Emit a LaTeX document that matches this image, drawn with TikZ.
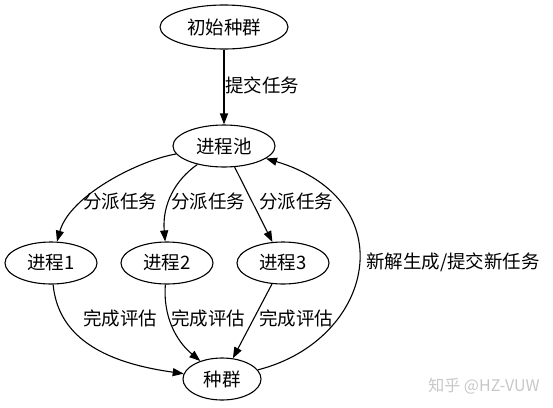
\documentclass[tikz,border=0pt]{standalone}
\usepackage{fontspec}
\setmainfont{Noto Sans CJK SC}
\usetikzlibrary{shapes.geometric,arrows.meta}
\begin{document}
\begin{tikzpicture}[x=1pt,y=-1pt,
  every node/.style={font=\fontsize{18.5}{22}\selectfont},
  st/.style={draw, ellipse, line width=1.1pt, inner sep=0pt},
  lbl/.style={inner sep=0pt},
  edge/.style={line width=1.1pt, -{Triangle[length=11pt,width=8pt]}},
  wm/.style={inner sep=0pt, text=black!22, font=\fontsize{16}{19}\selectfont}]
\useasboundingbox (0,0) rectangle (553,407);
\node[st, minimum width=128pt, minimum height=44pt] (init) at (224,27) {初始种群};
\node[st, minimum width=102pt, minimum height=42pt] (pool) at (224,146) {进程池};
\node[st, minimum width=92pt, minimum height=42pt] (p1) at (51,263) {进程1};
\node[st, minimum width=92pt, minimum height=42pt] (p2) at (167,263) {进程2};
\node[st, minimum width=92pt, minimum height=42pt] (p3) at (283,263) {进程3};
\node[st, minimum width=78pt, minimum height=42pt] (pop) at (222,379) {种群};

\draw[edge] (init) -- (pool);
\draw[edge] (pool) .. controls (140,160) and (70,195) .. (p1);
\draw[edge] (pool) .. controls (175,180) and (162,205) .. (p2);
\draw[edge] (pool) -- (p3);
\draw[edge] (p1) .. controls (58,335) and (100,362) .. (pop);
\draw[edge] (p2) .. controls (163,315) and (175,340) .. (pop);
\draw[edge] (p3) -- (pop);
\draw[edge] (pop) .. controls (375,340) and (405,200) .. (pool);

\node[lbl, anchor=west] (l0) at (225,85) {提交任务};
\node[lbl] (l1) at (120,202) {分派任务};
\node[lbl] (l2) at (208,202) {分派任务};
\node[lbl] (l3) at (296,202) {分派任务};
\node[lbl] (l4) at (120,318) {完成评估};
\node[lbl] (l5) at (208,318) {完成评估};
\node[lbl] (l6) at (296,318) {完成评估};
\node[lbl, anchor=west] (l7) at (366,262) {新解生成/提交新任务};
\node[wm] (wmk) at (484,386) {知乎 @HZ-VUW};
\end{tikzpicture}
\end{document}
